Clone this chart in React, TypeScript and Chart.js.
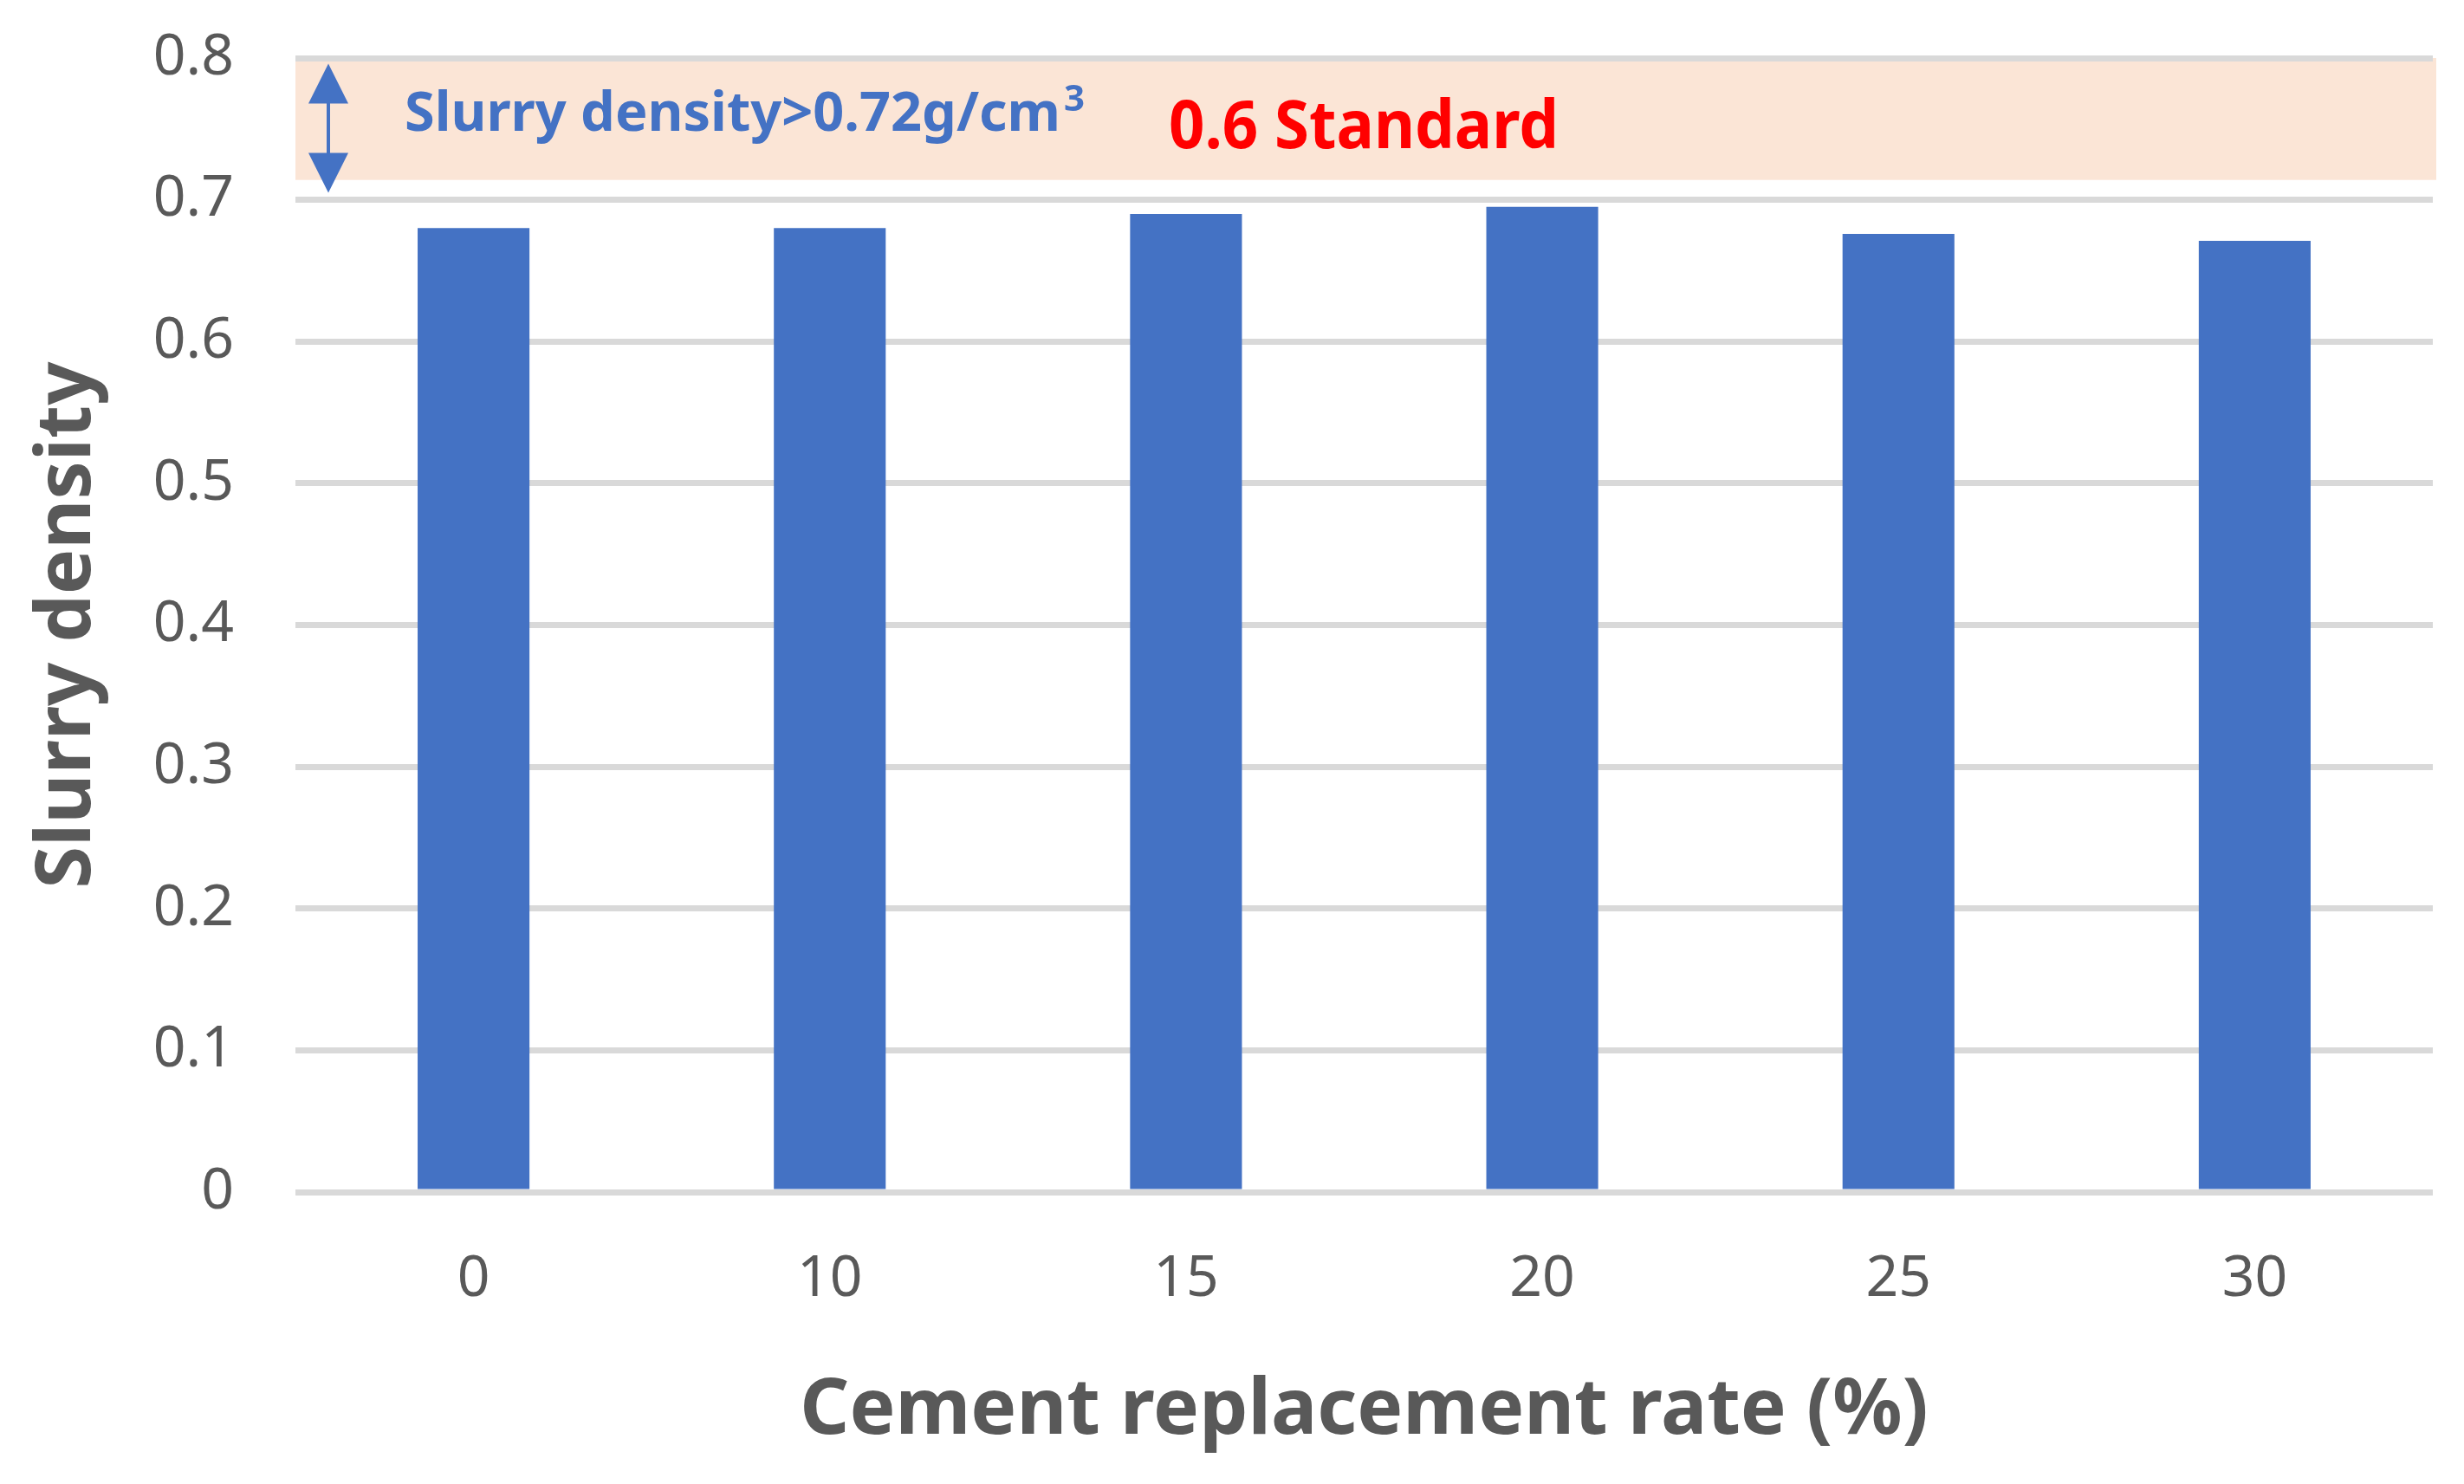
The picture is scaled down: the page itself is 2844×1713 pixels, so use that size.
import React, { useEffect, useRef } from "react";
import { Chart, registerables } from "chart.js";

Chart.register(...registerables);

const categories = ["0", "10", "15", "20", "25", "30"];
const slurryDensity = [0.68, 0.68, 0.69, 0.695, 0.676, 0.671];
const yTicks = [0, 0.1, 0.2, 0.3, 0.4, 0.5, 0.6, 0.7, 0.8];
const yTickLabels = ["0", "0.1", "0.2", "0.3", "0.4", "0.5", "0.6", "0.7", "0.8"];
const bandRange = [0.714, 0.8];
const arrowRange = [0.705, 0.796];
const xTitle = "Cement replacement rate (%)";
const yTitle = "Slurry density";
const noteText = "Slurry density>0.72g/cm";
const noteSup = "3";
const standardText = "0.6 Standard";

const FONT = "'Noto Sans', 'DejaVu Sans', sans-serif";
const GRAY = "#595959";
const BLUE = "#4472C4";

const annotationPlugin = {
  id: "annotations",
  beforeDraw(chart: any) {
    const { ctx, chartArea } = chart;
    const y = chart.scales.y;
    const top = y.getPixelForValue(bandRange[1]);
    const bottom = y.getPixelForValue(bandRange[0]);
    ctx.save();
    ctx.fillStyle = "#FBE5D6";
    ctx.fillRect(chartArea.left, top, chartArea.right - chartArea.left + 4, bottom - top);
    ctx.restore();
  },
  afterDraw(chart: any) {
    const { ctx, chartArea } = chart;
    const y = chart.scales.y;
    const ax = chartArea.left + 38;
    const aTop = y.getPixelForValue(arrowRange[1]);
    const aBot = y.getPixelForValue(arrowRange[0]);
    const headL = 46;
    const headW = 23;
    ctx.save();
    ctx.fillStyle = BLUE;
    ctx.strokeStyle = BLUE;
    ctx.lineWidth = 4;
    ctx.beginPath();
    ctx.moveTo(ax, aTop + headL - 2);
    ctx.lineTo(ax, aBot - headL + 2);
    ctx.stroke();
    ctx.beginPath();
    ctx.moveTo(ax, aTop);
    ctx.lineTo(ax - headW, aTop + headL);
    ctx.lineTo(ax + headW, aTop + headL);
    ctx.closePath();
    ctx.fill();
    ctx.beginPath();
    ctx.moveTo(ax, aBot);
    ctx.lineTo(ax - headW, aBot - headL);
    ctx.lineTo(ax + headW, aBot - headL);
    ctx.closePath();
    ctx.fill();

    const noteX = chartArea.left + 126;
    const noteY = y.getPixelForValue(0.7485);
    ctx.font = `bold 63px ${FONT}`;
    ctx.textBaseline = "alphabetic";
    ctx.textAlign = "left";
    const w = Math.min(ctx.measureText(noteText).width, 766);
    ctx.fillText(noteText, noteX, noteY, 766);
    ctx.font = `bold 42px ${FONT}`;
    ctx.fillText(noteSup, noteX + w + 4, noteY - 23);

    ctx.fillStyle = "#FF0000";
    ctx.font = `bold 77px ${FONT}`;
    const sx = chartArea.left + 1008;
    const sy = y.getPixelForValue(0.7365);
    ctx.fillText(standardText, sx, sy, 450);
    ctx.restore();
  },
};

export default function App() {
  const ref = useRef<HTMLCanvasElement | null>(null);

  useEffect(() => {
    if (!ref.current) return;
    const chart = new Chart(ref.current, {
      type: "bar",
      data: {
        labels: categories,
        datasets: [
          {
            label: "Slurry density",
            data: slurryDensity,
            backgroundColor: BLUE,
            borderWidth: 0,
            barPercentage: 0.314,
            categoryPercentage: 1,
          },
        ],
      },
      options: {
        animation: false,
        responsive: true,
        maintainAspectRatio: false,
        layout: { padding: { left: 0, top: 67, right: 36, bottom: 0 } },
        plugins: {
          legend: { display: false },
          tooltip: { enabled: false },
        },
        scales: {
          x: {
            grid: { display: false, drawTicks: false },
            border: { display: false },
            ticks: {
              color: GRAY,
              font: { family: FONT, size: 66 },
              padding: 62,
            },
            title: {
              display: true,
              text: xTitle,
              color: GRAY,
              font: { family: FONT, size: 89, weight: "bold" },
              padding: { top: 0, bottom: 30 },
            },
            afterFit: (scale: any) => {
              scale.height = 337;
            },
          },
          y: {
            min: 0,
            max: 0.8,
            grid: { color: "#D9D9D9", lineWidth: 7, drawTicks: false },
            border: { display: false },
            afterBuildTicks: (scale: any) => {
              scale.ticks = yTicks.map((v) => ({ value: v }));
            },
            ticks: {
              color: GRAY,
              font: { family: FONT, size: 66 },
              padding: 71,
              callback: (value: any) => {
                const i = yTicks.findIndex((t) => Math.abs(t - Number(value)) < 1e-9);
                return i >= 0 ? yTickLabels[i] : "";
              },
            },
            title: {
              display: true,
              text: yTitle,
              color: GRAY,
              font: { family: FONT, size: 88, weight: "bold" },
              padding: { top: 26, bottom: 0 },
            },
            afterFit: (scale: any) => {
              scale.width = 341;
              scale.paddingTop = 0;
              scale.paddingBottom = 0;
            },
          },
        },
      },
      plugins: [annotationPlugin],
    });
    return () => chart.destroy();
  }, []);

  return (
    <div
      style={{
        position: "fixed",
        left: 0,
        top: 0,
        width: "2844px",
        height: "1713px",
        background: "#ffffff",
      }}
    >
      <canvas ref={ref} />
    </div>
  );
}
